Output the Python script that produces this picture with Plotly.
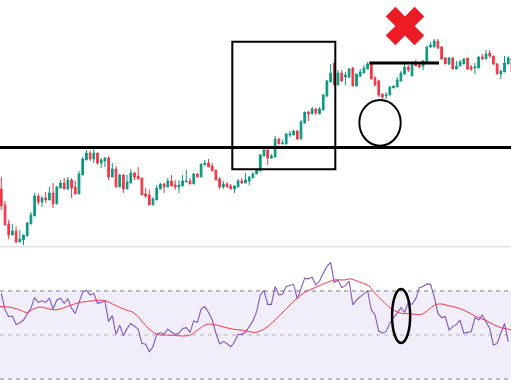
import plotly.graph_objects as go

# ---------------- data (price units, index = candle number) ----------------
opens = [61,45,26,15,19,8,10,14,26,34,54,48,52,50,57,46,62,67,61,70,63,56,75,90,97,91,97,87,89,92,
         73,81,63,75,61,67,77,74,72,56,55,45,50,61,66,63,69,65,63,64,68,69,66,76,73,85,87,84,80,71,
         63,66,64,61,63,69,67,69,72,76,79,94,100,92,93,111,106,106,115,115,119,111,127,138,136,141,136,140,154,168,
         187,165,177,173,173,182,164,174,177,181,186,172,169,156,154,155,162,163,169,176,183,174,186,185,184,188,203,203,209,203,
         192,186,192,181,184,186,192,183,182,182,193,191,197,194,186,176,178,186,192]
highs = [73,49,30,26,23.7,20,15,28,38,57,56,54,58,63,67,64,70,72,73,72,69,79,93,100,99,102,97,92,93,94,
         87,84,76,76,75,81,78,83,72,62,60,53,65,67,67,72,75,70,70,75,80,72,77,77,86,90,91,87,80,73,
         69,68,66,65,71,72,77,74,78,81,96,103,102,96,114,112,110,117,119,120,120,130,138,139,143,142,143,156,170,186,
         187,180,180,178,182,183,176,181,185,188,186,174,170,156,158,164,165,173,179,186,185,186,190,186,190,204,208,211,211,204,
         193,193,193,189,190,192,192,185,187,194,196,200,200,194,187,180,194,194,193]
lows = [40,25,10.7,15,7,8,5,14,26,34,45,43,47,50,42,46,62,61,60,52,56,56,75,90,89,87,85,82,83,70,
        73,63,63,57,61,67,70,71,55,52,45,45,50,61,57,63,64,60,57,64,68,66,66,73,73,85,83,79,70,61,
        61,63,61,57,63,66,67,65,72,76,79,94,85,91,93,106,106,106,113,115,110,111,127,129,136,135,136,140,153,168,
        165,165,168,165,172,164,164,173,177,181,171,164,153,151,151,155,162,163,169,175,178,174,184,182,180,188,202,203,201,191,
        186,185,181,181,184,186,180,179,176,182,190,191,192,185,176,171,178,186,178]
closes = [44.3,25,15,19,8,11,15,27,35,54,48,52,50,57,46,63,67,61,70,62,56,76,91,97,91,97,87,90,92,73,
          81,63,75,61,68,77,73,71,55,54,45,51,62,66,63,69,64,63,65,69,69,66,76,73,86,87,83,79,70,63,
          66,63,61,64,69,67,70,73,76,80,95,100,92,94,111,106,107,116,116,119,111,128,138,136,141,137,141,155,169,177,
          165,177,169,175,181,164,176,178,182,186,171,165,155,153,155,163,164,170,177,183,180,185,184,183,189,203,205,209,202,191,
          186,192,181,184,188,191,181,181,183,193,191,196,194,186,176,179,187,192,178]

rsi = [68.9,61.4,58.3,58.6,54.8,55.6,56.8,59.8,62.1,67.0,64.8,65.5,64.8,66.7,61.8,65.9,66.7,64.4,66.4,62.1,
       59.8,64.8,69.4,70.3,68.2,68.9,64.4,64.8,65.5,56.1,58.8,50.3,54.5,49.7,53.0,55.2,53.8,52.7,46.2,45.8,
       42.4,44.7,50.3,51.1,50.3,52.7,51.2,50.3,50.8,53.0,53.3,51.2,56.4,55.8,61.8,62.9,60.3,56.8,50.8,45.9,
       47.0,46.1,44.7,46.7,50.3,50.3,51.2,53.8,56.4,60.6,68.2,70.2,63.9,63.9,72.0,68.2,68.5,72.0,72.4,73.0,
       66.4,71.2,75.8,75.5,76.2,72.7,74.5,78.0,81.1,83.0,73.9,75.0,71.5,72.4,74.5,63.6,65.9,67.4,68.5,70.0,
       61.4,59.1,51.8,50.8,51.5,55.3,57.9,59.8,62.4,60.2,64.8,63.9,66.4,71.5,72.0,73.2,73.0,67.4,59.8,57.9,
       58.3,52.3,53.8,54.8,56.7,50.8,51.2,51.5,57.9,56.8,59.1,56.1,53.0,45.5,46.1,50.8,55.2,47.0]

ma_idx = [-0.35,2.35,5,6.9,8.7,10.5,12.3,14.1,15.9,17.7,19.5,21.3,23.1,24.9,26.7,28,30.3,33,35.7,37.5,
          39.3,41.1,42.9,44.7,50.5,51.9,53.7,55.5,57.3,59.1,60.9,62.7,64.5,66.3,68.7,71.3,74,76.7,79.4,82,
          84.8,87.5,90.2,92.9,94.3,96.5,99.2,101,102.8,104.6,106.4,108.2,110,111.8,113.6,115.4,117.2,119,120.8,122.6,
          125.3,128,130.7,133.3,135.2,137.75]
ma_val = [62.9,62.6,61.4,60.2,61.8,62.7,62.1,61.4,61.8,62.9,63.9,64.8,65.2,65.6,65.8,65.6,63.9,61.8,60.2,57.3,
          53.8,51.2,50.0,50.0,49.7,50.8,53.0,54.8,54.8,54.1,53.3,52.6,52.3,51.8,51.2,53.0,56.8,61.4,65.9,69.4,
          71.5,73.5,75.0,75.0,75.5,74.2,72.4,68.9,65.9,62.9,60.9,59.8,59.7,59.4,59.4,61.4,63.6,64.1,63.3,62.7,
          61.1,58.6,56.8,54.5,53.3,52.4]

rsi_levels = [70, 50, 30]
support_level = 102.5

idx = list(range(len(opens)))

GREEN = "#089981"
RED = "#F23645"

fig = go.Figure()
fig.add_trace(go.Candlestick(
    x=idx, open=opens, high=highs, low=lows, close=closes,
    increasing=dict(line=dict(color=GREEN, width=1), fillcolor=GREEN),
    decreasing=dict(line=dict(color=RED, width=1), fillcolor=RED),
    whiskerwidth=0, xaxis="x", yaxis="y", showlegend=False, hoverinfo="skip"))

fig.add_trace(go.Scatter(x=idx, y=rsi, mode="lines", line=dict(color="#7E57C2", width=1.1),
                         xaxis="x2", yaxis="y2", showlegend=False, hoverinfo="skip"))
fig.add_trace(go.Scatter(x=ma_idx, y=ma_val, mode="lines", line=dict(color="#F23645", width=1, shape="spline"),
                         xaxis="x2", yaxis="y2", showlegend=False, hoverinfo="skip"))

# red X marker
fig.add_trace(go.Scatter(x=[109.1], y=[224], mode="markers",
                         marker=dict(symbol="x", size=34, color="#ED1C24", line=dict(width=0)),
                         xaxis="x", yaxis="y", showlegend=False, hoverinfo="skip"))

shapes = []
# RSI band
shapes.append(dict(type="rect", xref="paper", yref="y2", x0=0, x1=1, y0=30, y1=70,
                   fillcolor="rgba(126,87,194,0.1)", line=dict(width=0), layer="below"))
for lv in rsi_levels:
    shapes.append(dict(type="line", xref="paper", yref="y2", x0=0, x1=1, y0=lv, y1=lv,
                       line=dict(color="rgba(120,123,134,0.5)" if lv == 50 else "#787B86", width=1, dash="4px,4px"),
                       layer="below"))
# separator
shapes.append(dict(type="line", xref="paper", yref="paper", x0=0, x1=1, y0=1 - 246.7 / 383, y1=1 - 246.7 / 383,
                   line=dict(color="#E0E3EB", width=1.5)))
# support line
shapes.append(dict(type="line", xref="paper", yref="y", x0=0, x1=1, y0=support_level, y1=support_level,
                   line=dict(color="black", width=3)))
# rectangle
shapes.append(dict(type="rect", xref="x", yref="y", x0=62.43, x1=90.27, y0=80.7, y1=208.3,
                   line=dict(color="black", width=2), fillcolor="rgba(0,0,0,0)"))
# short resistance line
shapes.append(dict(type="line", xref="x", yref="y", x0=99.46, x1=118.3, y0=187, y1=187,
                   line=dict(color="black", width=3)))
# circle
shapes.append(dict(type="circle", xref="x", yref="y", x0=96.76, x1=107.95, y0=104.3, y1=150,
                   line=dict(color="black", width=2)))
# RSI ellipse
shapes.append(dict(type="circle", xref="x2", yref="y2", x0=105.6, x1=110.5, y0=46.4, y1=70.9,
                   line=dict(color="black", width=2.5)))

xr = [-0.35, 137.75]
fig.update_layout(
    width=511, height=383, margin=dict(l=0, r=0, t=0, b=0),
    paper_bgcolor="white", plot_bgcolor="white", boxgap=0.35,
    shapes=shapes,
    xaxis=dict(range=xr, domain=[0, 1], anchor="y", visible=False, rangeslider=dict(visible=False),
               showgrid=False, zeroline=False),
    xaxis2=dict(range=xr, domain=[0, 1], anchor="y2", visible=False, matches="x",
                showgrid=False, zeroline=False),
    yaxis=dict(range=[4, 250], domain=[1 - 246 / 383, 1], visible=False, showgrid=False, zeroline=False),
    yaxis2=dict(range=[28.2, 89.5], domain=[0, 1 - 248 / 383], visible=False, showgrid=False, zeroline=False),
)

fig.write_html(
    "out.html",
    config={"displayModeBar": False, "staticPlot": True},
    post_script="document.body.style.margin='0';document.body.style.overflow='hidden';",
)
